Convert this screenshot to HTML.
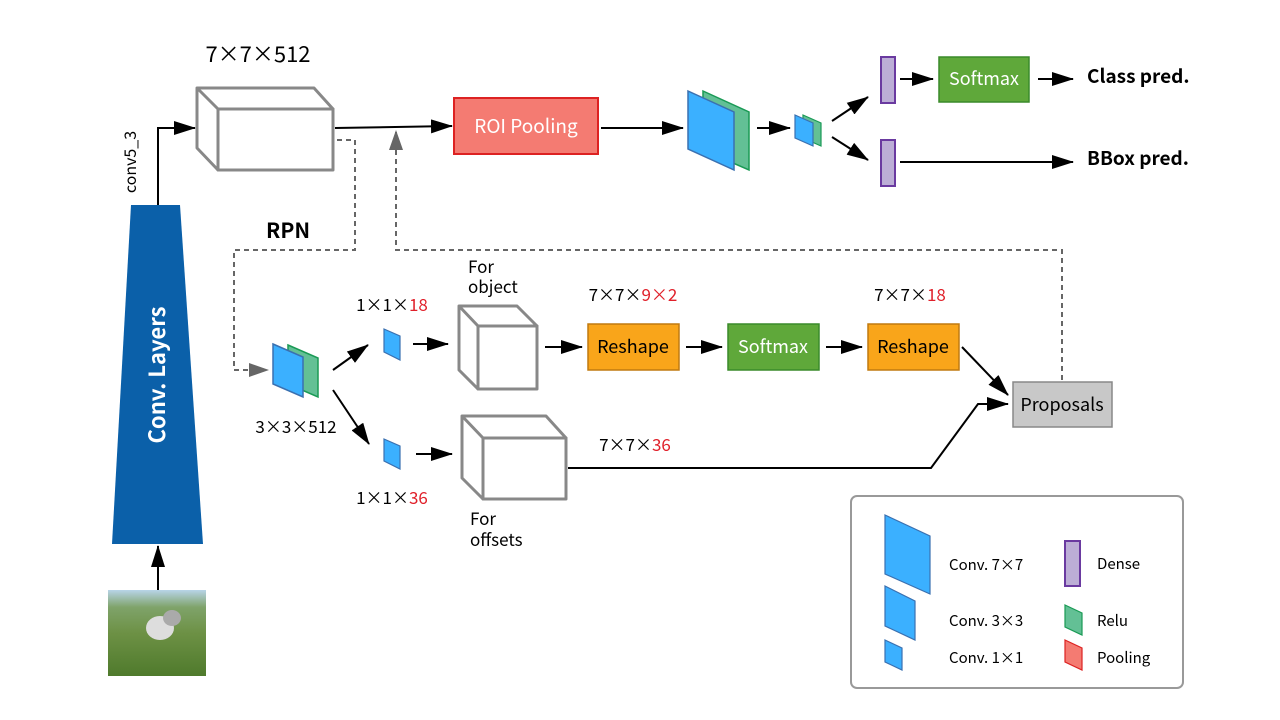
<!DOCTYPE html>
<html><head><meta charset="utf-8"><style>
html,body{margin:0;padding:0;background:#fff}
svg{display:block}
text{font-family:"Noto Sans CJK SC","Liberation Sans",sans-serif}
</style></head><body>
<svg width="1280" height="720" viewBox="0 0 1280 720" xmlns="http://www.w3.org/2000/svg">
<defs>
<marker id="ahb" markerWidth="22" markerHeight="14" refX="21" refY="7" orient="auto" markerUnits="userSpaceOnUse" viewBox="0 0 22 14"><path d="M0,0 L22,7 L0,14z" fill="#000"/></marker>
<marker id="ahg" markerWidth="20" markerHeight="14" refX="19" refY="7" orient="auto" markerUnits="userSpaceOnUse" viewBox="0 0 20 14"><path d="M0,0 L20,7 L0,14z" fill="#666"/></marker>
<linearGradient id="cat" x1="0" y1="0" x2="0" y2="1"><stop offset="0" stop-color="#b8d4e8"/><stop offset="0.2" stop-color="#7fa36a"/><stop offset="0.5" stop-color="#6d9145"/><stop offset="1" stop-color="#4f7a2c"/></linearGradient>
</defs>

<polygon points="131,205 180,205 203,544 112,544" fill="#0b60a9"/>
<text transform="translate(165,375) rotate(-90)" text-anchor="middle" font-size="22" font-weight="bold" fill="#fff">Conv. Layers</text>
<text transform="translate(136,162) rotate(-90)" text-anchor="middle" font-size="16">conv5_3</text>
<polyline points="158,205 158,128 195,128" fill="none" stroke="#000" stroke-width="2" marker-end="url(#ahb)"/>
<rect x="108" y="590" width="98" height="86" fill="url(#cat)"/>
<ellipse cx="160" cy="628" rx="14" ry="12" fill="#ddd"/>
<ellipse cx="172" cy="618" rx="9" ry="8" fill="#aaa"/>
<line x1="158" y1="590" x2="158" y2="546" stroke="#000" stroke-width="2" marker-end="url(#ahb)"/>

<text x="258" y="62" text-anchor="middle" font-size="22">7×7×512</text>
<g fill="#fff" stroke="#888" stroke-width="3" stroke-linejoin="round">
<polygon points="197,88 314,88 333,109 218,109 218,170 197,148"/>
<rect x="218" y="109" width="115" height="61"/>
<line x1="197" y1="88" x2="218" y2="109"/>
</g>
<line x1="335" y1="128" x2="452" y2="126" stroke="#000" stroke-width="2" marker-end="url(#ahb)"/>
<rect x="454" y="98" width="144" height="56" fill="#f47b72" stroke="#d22" stroke-width="2"/>
<text x="526" y="133" text-anchor="middle" font-size="19" fill="#fff">ROI Pooling</text>
<line x1="601" y1="128" x2="683" y2="128" stroke="#000" stroke-width="2" marker-end="url(#ahb)"/>
<polygon points="703,91 749,112 749,170 703,150" fill="#63c095" stroke="#1a9a55" stroke-width="1.5"/>
<polygon points="688,91 734,112 734,170 688,149" fill="#3bb0ff" stroke="#3a70b0" stroke-width="1.5"/>
<line x1="757" y1="128" x2="790" y2="128" stroke="#000" stroke-width="2" marker-end="url(#ahb)"/>
<polygon points="803,115 821,123 821,146 803,138" fill="#63c095" stroke="#1a9a55" stroke-width="1.2"/>
<polygon points="795,115 813,123 813,146 795,138" fill="#3bb0ff" stroke="#3a70b0" stroke-width="1.2"/>
<line x1="832" y1="121" x2="868" y2="97" stroke="#000" stroke-width="2" marker-end="url(#ahb)"/>
<line x1="832" y1="137" x2="868" y2="160" stroke="#000" stroke-width="2" marker-end="url(#ahb)"/>
<rect x="881" y="57" width="14" height="46" fill="#bcaed6" stroke="#6a3aa0" stroke-width="2"/>
<rect x="881" y="140" width="14" height="46" fill="#bcaed6" stroke="#6a3aa0" stroke-width="2"/>
<line x1="900" y1="79" x2="933" y2="79" stroke="#000" stroke-width="2" marker-end="url(#ahb)"/>
<rect x="939" y="57" width="90" height="45" fill="#5fa83a" stroke="#3a8a2a" stroke-width="1.5"/>
<text x="984" y="85" text-anchor="middle" font-size="18" fill="#fff">Softmax</text>
<line x1="1038" y1="79" x2="1073" y2="79" stroke="#000" stroke-width="2" marker-end="url(#ahb)"/>
<text x="1087" y="83" font-size="19" font-weight="bold">Class pred.</text>
<line x1="900" y1="162" x2="1073" y2="162" stroke="#000" stroke-width="2" marker-end="url(#ahb)"/>
<text x="1087" y="165" font-size="19" font-weight="bold">BBox pred.</text>

<polyline points="337,140 355,140 355,250 234,250 234,370 268,370" fill="none" stroke="#666" stroke-width="2" stroke-dasharray="5,4" marker-end="url(#ahg)"/>
<polyline points="1062,380 1062,250 396,250 396,131" fill="none" stroke="#666" stroke-width="2" stroke-dasharray="5,4" marker-end="url(#ahg)"/>
<text x="266" y="238" font-size="21" font-weight="bold">RPN</text>

<polygon points="288,345 318,358 318,397 288,384" fill="#63c095" stroke="#1a9a55" stroke-width="1.5"/>
<polygon points="273,344 303,357 303,397 273,384" fill="#3bb0ff" stroke="#3a70b0" stroke-width="1.5"/>
<text x="296" y="433" text-anchor="middle" font-size="17">3×3×512</text>
<line x1="333" y1="370" x2="368" y2="345" stroke="#000" stroke-width="2" marker-end="url(#ahb)"/>
<line x1="333" y1="390" x2="369" y2="444" stroke="#000" stroke-width="2" marker-end="url(#ahb)"/>
<polygon points="384,329 400,336 400,360 384,352" fill="#3bb0ff" stroke="#3a70b0" stroke-width="1.2"/>
<polygon points="384,439 400,446 400,469 384,461" fill="#3bb0ff" stroke="#3a70b0" stroke-width="1.2"/>
<text x="392" y="311" text-anchor="middle" font-size="17">1×1×<tspan fill="#e0202a">18</tspan></text>
<text x="392" y="504" text-anchor="middle" font-size="17">1×1×<tspan fill="#e0202a">36</tspan></text>
<line x1="413" y1="344" x2="448" y2="344" stroke="#000" stroke-width="2" marker-end="url(#ahb)"/>
<line x1="416" y1="454" x2="452" y2="454" stroke="#000" stroke-width="2" marker-end="url(#ahb)"/>
<g fill="#fff" stroke="#888" stroke-width="3" stroke-linejoin="round">
<polygon points="459,306 517,306 537,326 478,326 478,389 459,370"/>
<rect x="478" y="326" width="59" height="63"/>
<line x1="459" y1="306" x2="478" y2="326"/>
<polygon points="462,416 546,416 566,438 483,438 483,499 462,478"/>
<rect x="483" y="438" width="83" height="61"/>
<line x1="462" y1="416" x2="483" y2="438"/>
</g>
<text x="468" y="273" font-size="17">For</text>
<text x="468" y="293" font-size="17">object</text>
<text x="470" y="525" font-size="17">For</text>
<text x="470" y="546" font-size="17">offsets</text>
<line x1="545" y1="347" x2="582" y2="347" stroke="#000" stroke-width="2" marker-end="url(#ahb)"/>
<rect x="588" y="324" width="91" height="46" fill="#f9a51a" stroke="#c07a10" stroke-width="1.5"/>
<text x="633" y="353" text-anchor="middle" font-size="18">Reshape</text>
<text x="633" y="301" text-anchor="middle" font-size="17">7×7×<tspan fill="#e0202a">9×2</tspan></text>
<line x1="686" y1="347" x2="722" y2="347" stroke="#000" stroke-width="2" marker-end="url(#ahb)"/>
<rect x="728" y="324" width="91" height="46" fill="#5fa83a" stroke="#3a8a2a" stroke-width="1.5"/>
<text x="773" y="353" text-anchor="middle" font-size="18" fill="#fff">Softmax</text>
<line x1="826" y1="347" x2="862" y2="347" stroke="#000" stroke-width="2" marker-end="url(#ahb)"/>
<rect x="868" y="324" width="91" height="46" fill="#f9a51a" stroke="#c07a10" stroke-width="1.5"/>
<text x="913" y="353" text-anchor="middle" font-size="18">Reshape</text>
<text x="910" y="301" text-anchor="middle" font-size="17">7×7×<tspan fill="#e0202a">18</tspan></text>
<line x1="962" y1="347" x2="1008" y2="395" stroke="#000" stroke-width="2" marker-end="url(#ahb)"/>
<polyline points="568,468 931,468 978,404 1008,404" fill="none" stroke="#000" stroke-width="2" marker-end="url(#ahb)"/>
<text x="635" y="451" text-anchor="middle" font-size="17">7×7×<tspan fill="#e0202a">36</tspan></text>
<rect x="1013" y="382" width="99" height="45" fill="#c8c8c8" stroke="#888" stroke-width="1.5"/>
<text x="1062" y="411" text-anchor="middle" font-size="18">Proposals</text>

<rect x="851" y="496" width="332" height="192" rx="6" fill="#fff" stroke="#999" stroke-width="2"/>
<polygon points="885,515 930,536 930,594 885,574" fill="#3bb0ff" stroke="#3a70b0" stroke-width="1.2"/>
<polygon points="885,586 915,601 915,640 885,626" fill="#3bb0ff" stroke="#3a70b0" stroke-width="1.2"/>
<polygon points="885,640 902,648 902,670 885,662" fill="#3bb0ff" stroke="#3a70b0" stroke-width="1.2"/>
<text x="949" y="570" font-size="15">Conv. 7×7</text>
<text x="949" y="626" font-size="15">Conv. 3×3</text>
<text x="949" y="663" font-size="15">Conv. 1×1</text>
<rect x="1065" y="541" width="15" height="45" fill="#bcaed6" stroke="#6a3aa0" stroke-width="2"/>
<polygon points="1065,605 1082,613 1082,635 1065,627" fill="#63c095" stroke="#1a9a55" stroke-width="1.2"/>
<polygon points="1065,640 1082,648 1082,670 1065,662" fill="#f47b72" stroke="#d22" stroke-width="1.2"/>
<text x="1097" y="569" font-size="15">Dense</text>
<text x="1097" y="626" font-size="15">Relu</text>
<text x="1097" y="663" font-size="15">Pooling</text>
</svg>
</body></html>
